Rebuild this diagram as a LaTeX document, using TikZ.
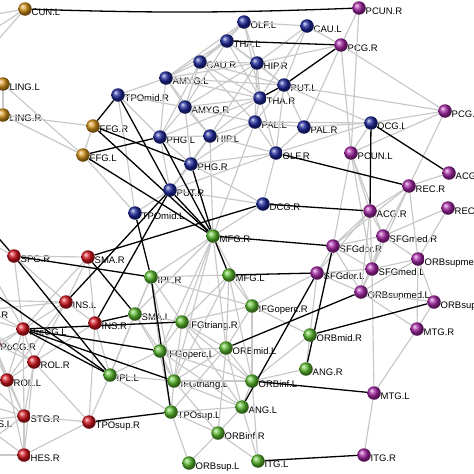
\documentclass[tikz,border=0pt]{standalone}
\usepackage{fontspec}
\newfontfamily\lf{Liberation Sans}
\usetikzlibrary{calc}
\pgfdeclarelayer{labels}
\pgfdeclarelayer{edges}
\pgfsetlayers{labels,edges,main}
\definecolor{cor}{RGB}{210,144,24}
\definecolor{cbl}{RGB}{30,40,156}
\definecolor{cpu}{RGB}{164,38,164}
\definecolor{cgr}{RGB}{90,186,46}
\definecolor{cre}{RGB}{210,20,30}
\definecolor{cgray}{RGB}{200,200,200}
\tikzset{
  nd/.style={circle,minimum size=13.5pt,inner sep=0pt,shading=ball},
  orn/.style={nd,ball color=cor},
  blu/.style={nd,ball color=cbl},
  pur/.style={nd,ball color=cpu},
  grn/.style={nd,ball color=cgr},
  red/.style={nd,ball color=cre},
  lab/.style={anchor=base west,inner sep=0pt,font=\lf\fontsize{9.5}{10}\selectfont},
  gl/.style={draw=cgray,line width=1.15pt},
  bl/.style={draw=black,line width=1.3pt},
}
\newcommand\bn[5]{%
  \node[#4] (#1) at (#2,#3) {};
  \begin{pgfonlayer}{labels}\node[lab] at (#2+6.5,#3+6.8) {#5};\end{pgfonlayer}}
\begin{document}
\begin{tikzpicture}[x=1pt,y=-1pt]
\useasboundingbox (0,0) rectangle (474,474);
\begin{pgfonlayer}{labels}\fill[white] (0,0) rectangle (474,474);\end{pgfonlayer}
% orange
\bn{CUNL}{25}{9}{orn}{CUN.L}
\bn{LINGL}{3}{84}{orn}{LING.L}
\bn{LINGR}{3}{115}{orn}{LING.R}
\bn{FFGR}{93}{126}{orn}{FFG.R}
\bn{FFGL}{83}{155}{orn}{FFG.L}
% blue
\bn{OLFL}{244}{22}{blu}{OLF.L}
\bn{CAUL}{307}{26}{blu}{CAU.L}
\bn{THAL}{227}{41}{blu}{THA.L}
\bn{CAUR}{200}{62}{blu}{CAU.R}
\bn{HIPR}{257}{63}{blu}{HIP.R}
\bn{AMYGL}{166}{78}{blu}{AMYG.L}
\bn{PUTL}{284}{85}{blu}{PUT.L}
\bn{TPOmidR}{118}{95}{blu}{TPOmid.R}
\bn{THAR}{260}{98}{blu}{THA.R}
\bn{AMYGR}{185}{107}{blu}{AMYG.R}
\bn{PALL}{255}{122}{blu}{PAL.L}
\bn{PALR}{304}{127}{blu}{PAL.R}
\bn{DCGL}{371}{123}{blu}{DCG.L}
\bn{PHGL}{160}{137}{blu}{PHG.L}
\bn{HIPL}{210}{136}{blu}{HIP.L}
\bn{OLFR}{276}{153}{blu}{OLF.R}
\bn{PHGR}{191}{164}{blu}{PHG.R}
\bn{PUTR}{170}{190}{blu}{PUT.R}
\bn{DCGR}{263}{204}{blu}{DCG.R}
\bn{TPOmidL}{135}{213}{blu}{TPOmid.L}
% purple
\bn{PCUNR}{359}{8}{pur}{PCUN.R}
\bn{PCGR}{341}{45}{pur}{PCG.R}
\bn{PCGL}{445}{111}{pur}{PCG.L}
\bn{PCUNL}{351}{153}{pur}{PCUN.L}
\bn{ACGL}{449}{173}{pur}{ACG.L}
\bn{RECR}{409}{186}{pur}{REC.R}
\bn{RECL}{448}{208}{pur}{REC.L}
\bn{ACGR}{370}{211}{pur}{ACG.R}
\bn{SFGmedR}{383}{236}{pur}{SFGmed.R}
\bn{SFGdorR}{333}{246}{pur}{SFGdor.R}
\bn{ORBsupmedR}{418}{259}{pur}{ORBsupmed.R}
\bn{SFGmedL}{372}{269}{pur}{SFGmed.L}
\bn{SFGdorL}{317}{273}{pur}{SFGdor.L}
\bn{ORBsupmedL}{361}{292}{pur}{ORBsupmed.L}
\bn{ORBsupR}{434}{302}{pur}{ORBsup.R}
\bn{MTGR}{417}{329}{pur}{MTG.R}
\bn{MTGL}{374}{393}{pur}{MTG.L}
\bn{ITGR}{364}{455}{pur}{ITG.R}
% green
\bn{MFGR}{213}{236}{grn}{MFG.R}
\bn{IPLR}{151}{277}{grn}{IPL.R}
\bn{MFGL}{229}{275}{grn}{MFG.L}
\bn{IFGopercR}{252}{306}{grn}{IFGoperc.R}
\bn{SMAL}{135}{314}{grn}{SMA.L}
\bn{IFGtriangR}{182}{322}{grn}{IFGtriang.R}
\bn{ORBmidR}{310}{335}{grn}{ORBmid.R}
\bn{ORBmidL}{226}{348}{grn}{ORBmid.L}
\bn{IFGopercL}{160}{351}{grn}{IFGoperc.L}
\bn{ANGR}{306}{369}{grn}{ANG.R}
\bn{IPLL}{110}{375}{grn}{IPL.L}
\bn{IFGtriangL}{174}{381}{grn}{IFGtriang.L}
\bn{ORBinfL}{252}{381}{grn}{ORBinf.L}
\bn{ANGL}{242}{407}{grn}{ANG.L}
\bn{TPOsupL}{171}{412}{grn}{TPOsup.L}
\bn{ORBinfR}{218}{433}{grn}{ORBinf.R}
\bn{ITGL}{258}{461}{grn}{ITG.L}
\bn{ORBsupL}{189}{463}{grn}{ORBsup.L}
% red
\bn{SPGR}{14}{256}{red}{SPG.R}
\bn{SMAR}{88}{257}{red}{SMA.R}
\bn{INSL}{66}{302}{red}{INS.L}
\bn{INSR}{95}{323}{red}{INS.R}
\bn{PreCGL}{23}{329}{red}{PreCG.L}
\bn{PreCGR}{-37}{312}{red}{PreCG.R}
\bn{PoCGR}{-6}{344}{red}{PoCG.R}
\bn{ROLR}{34}{362}{red}{ROL.R}
\bn{ROLL}{7}{380}{red}{ROL.L}
\bn{STGR}{24}{416}{red}{STG.R}
\bn{HESL}{-22}{421}{red}{HES.L}
\bn{TPOsupR}{89}{422}{red}{TPOsup.R}
\bn{HESR}{24}{455}{red}{HES.R}
% off-picture ends
\coordinate (cA) at (-25,18);
\coordinate (cB) at (-25,42);
\coordinate (cC) at (-25,66);
\coordinate (cD) at (-30,205);
\coordinate (cE) at (-25,280);
\coordinate (oL1) at (-30,232);
\coordinate (oL2) at (-30,300);
\coordinate (oL3) at (-30,365);
\coordinate (oL4) at (-30,400);
\coordinate (oL5) at (-30,455);
\begin{pgfonlayer}{edges}
\foreach \a/\b in {CUNL/cA,CUNL/cB,CUNL/cC,LINGL/LINGR,LINGL/FFGL,LINGR/FFGR,LINGR/FFGL,FFGR/FFGL,
 TPOmidR/TPOmidL,TPOmidR/PHGL,TPOmidR/AMYGL,TPOmidR/AMYGR,FFGL/TPOmidL,
 OLFL/THAL,OLFL/CAUR,OLFL/HIPR,OLFL/AMYGL,OLFL/THAR,OLFL/CAUL,
 CAUL/HIPR,CAUL/PUTL,CAUL/THAR,CAUL/PCGR,PCGR/HIPR,PCGR/PALR,PUTL/PCGL,
 THAL/CAUR,THAL/HIPR,THAL/AMYGL,THAL/THAR,THAL/PUTL,THAL/AMYGR,
 CAUR/AMYGL,CAUR/HIPR,CAUR/THAR,CAUR/PUTL,CAUR/AMYGR,CAUR/PALL,CAUR/PHGL,
 HIPR/THAR,HIPR/AMYGL,HIPR/AMYGR,HIPR/PALL,HIPR/HIPL,HIPR/PUTL,
 AMYGL/AMYGR,AMYGL/PHGL,AMYGL/THAR,AMYGL/HIPL,AMYGL/PUTL,
 PUTL/PALL,PUTL/PALR,PUTL/DCGL,PUTL/OLFR,
 THAR/PALL,THAR/AMYGR,THAR/HIPL,THAR/PHGL,THAR/OLFR,
 AMYGR/PHGL,AMYGR/HIPL,AMYGR/PALL,AMYGR/PHGR,
 PALL/PALR,PALL/HIPL,PALL/OLFR,PALL/DCGL,PALL/PHGR,PALR/DCGL,PALR/OLFR,
 PHGL/HIPL,PHGL/PHGR,PHGL/PUTR,HIPL/PHGR,HIPL/OLFR,HIPL/PUTR,
 OLFR/DCGR,OLFR/PHGR,OLFR/DCGL,PHGR/PUTR,PHGR/DCGR,PUTR/TPOmidL,PUTR/DCGR,PUTR/OLFR,
 HIPL/MFGR,PALL/MFGR,DCGR/MFGR,
 DCGL/PCUNL,DCGL/PCGL,PCUNR/PCGR,PCUNR/PCUNL,PCGR/PCUNL,PCGR/PCGL,PCGL/PCUNL,PCGL/RECR,
 PCUNL/ACGR,PCUNL/SFGdorR,PCUNL/SFGmedL,PCUNL/SFGmedR,
 RECR/ACGR,RECR/SFGmedR,RECR/SFGdorR,RECR/ORBsupmedR,RECR/SFGmedL,RECR/ACGL,
 RECL/ORBsupmedR,RECL/SFGmedR,
 ACGR/SFGmedR,ACGR/SFGdorR,ACGR/SFGmedL,ACGR/ORBsupmedL,ACGR/SFGdorL,
 SFGmedR/SFGmedL,SFGmedR/ORBsupmedR,SFGmedR/SFGdorR,SFGmedR/ORBsupmedL,
 SFGdorR/SFGdorL,SFGdorR/SFGmedL,SFGdorR/ORBsupmedL,
 SFGmedL/ORBsupmedL,SFGmedL/SFGdorL,SFGmedL/MTGL,SFGmedL/ORBsupmedR,
 ORBsupmedR/ORBsupR,ORBsupmedR/ORBsupmedL,ORBsupmedR/MTGR,
 ORBsupmedL/ORBsupR,ORBsupmedL/MTGR,ORBsupR/MTGR,MTGR/MTGL,MTGL/ITGR,
 SFGdorL/ORBsupmedL,SFGdorL/IFGopercR,SFGdorL/ORBmidR,
 MFGR/IPLR,MFGR/SMAL,MFGR/IFGtriangR,MFGR/IFGopercR,MFGR/IFGopercL,MFGR/ORBmidL,MFGR/IFGtriangL,
 MFGL/IFGopercR,MFGL/IFGtriangR,MFGL/ORBmidL,MFGL/IFGtriangL,MFGL/IPLR,MFGL/ORBinfL,
 IPLR/SMAL,IPLR/IFGtriangR,IPLR/IFGopercR,IPLR/IFGopercL,IPLR/IFGtriangL,IPLR/IPLL,
 SMAL/IFGtriangR,SMAL/IFGopercL,SMAL/IPLL,SMAL/IFGtriangL,
 IFGtriangR/IFGopercL,IFGtriangR/ORBmidL,IFGtriangR/IFGopercR,IFGtriangR/IFGtriangL,IFGtriangR/ORBinfL,IFGtriangR/ANGL,
 IFGopercR/ORBmidL,IFGopercR/ORBinfL,IFGopercR/ORBmidR,
 IFGopercL/IFGtriangL,IFGopercL/ORBmidL,IFGopercL/TPOsupL,IFGopercL/ORBinfL,IFGopercL/IPLL,IFGopercL/ANGL,
 ORBmidL/IFGtriangL,ORBmidL/ORBinfL,ORBmidL/ANGL,ORBmidL/ORBinfR,ORBmidL/TPOsupL,
 IFGtriangL/TPOsupL,IFGtriangL/ORBinfL,IFGtriangL/ORBinfR,IFGtriangL/ANGL,IFGtriangL/IPLL,
 TPOsupL/ORBinfR,TPOsupL/ORBsupL,TPOsupL/ANGL,TPOsupL/IPLL,
 ANGL/ORBinfR,ANGL/ITGL,ANGL/ORBinfL,ORBinfR/ITGL,ORBinfR/ORBsupL,
 ORBinfL/ORBmidR,ORBinfL/ANGR,ORBinfL/ITGL,ORBmidR/ANGR,
 SPGR/SMAR,SPGR/INSL,SPGR/PreCGL,SMAR/INSL,SMAR/INSR,SMAR/PreCGL,
 INSL/INSR,INSL/PreCGL,INSL/ROLR,INSL/ROLL,INSR/ROLR,INSR/TPOsupR,INSR/IPLL,
 PreCGL/ROLR,PreCGL/ROLL,PreCGL/PoCGR,PreCGL/STGR,PoCGR/ROLR,PoCGR/ROLL,PoCGR/STGR,
 ROLR/ROLL,ROLR/STGR,ROLR/TPOsupR,ROLR/HESR,ROLL/STGR,ROLL/HESR,
 STGR/HESR,STGR/TPOsupR,STGR/HESL,HESR/TPOsupR,HESR/HESL,TPOsupR/IPLL,
 PreCGR/PreCGL,PreCGR/INSL,PreCGR/ROLR,oL1/SPGR,oL1/PreCGL,oL2/PreCGL,oL2/ROLL,oL2/INSL,
 oL3/ROLL,oL3/PreCGL,oL3/STGR,oL4/ROLL,oL4/STGR,oL5/HESR,oL5/STGR}
 {\draw[gl] (\a) -- (\b);}
\draw[bl] (CUNL) to[bend right=2] (PCUNR);
\foreach \a/\b in {THAL/PCGR,THAR/PUTL,PUTL/PCGR,DCGL/ACGR,DCGL/ACGL,OLFR/RECR,DCGR/ACGR,SMAR/DCGR,
 MFGR/SFGdorR,MFGL/SFGdorL,MFGR/MFGL,SFGdorL/ANGL,SFGdorR/ANGR,ORBsupmedL/ORBmidL,ORBmidR/ORBsupR,
 ORBinfL/MTGL,ITGL/ITGR,TPOsupR/TPOsupL,TPOmidR/FFGR,FFGR/PHGR,FFGR/MFGR,FFGL/PHGL,FFGL/MFGR,
 PHGL/MFGR,PHGR/MFGR,PUTR/MFGR,PUTR/INSL,PUTR/INSR,TPOmidR/PUTR,SPGR/IPLR,SPGR/IPLL,cD/SPGR,cE/IPLL,
 SMAR/SMAL,INSR/SMAL,PreCGL/IFGtriangR,PreCGL/IPLL,PreCGL/IFGopercL,PreCGL/IFGtriangL,
 TPOmidL/IPLR,IPLR/TPOsupL}
 {\draw[bl] (\a) -- (\b);}
\end{pgfonlayer}
\end{tikzpicture}
\end{document}
